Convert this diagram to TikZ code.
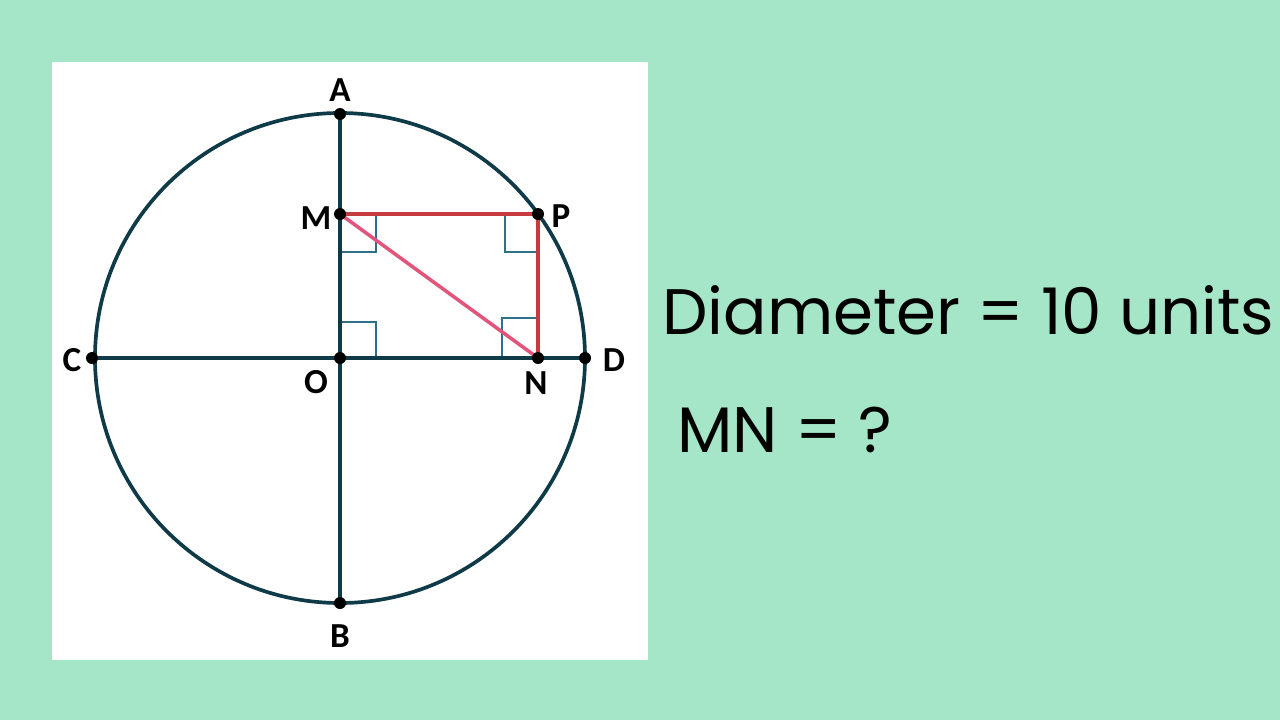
\documentclass[tikz,border=0pt]{standalone}
\usepackage{fontspec}
\setmainfont{Carlito}
\newfontfamily\gothic{Poppins}
\definecolor{mint}{HTML}{A6E6C8}
\definecolor{rim}{HTML}{0F3A48}
\definecolor{side}{HTML}{C63A40}
\definecolor{chord}{HTML}{E2557B}
\definecolor{sqcol}{HTML}{2F6F8C}
\tikzset{
  pt/.style={circle,fill=black,inner sep=0pt,minimum size=12*0.02cm},
  lbl/.style={font=\bfseries\fontsize{20}{24}\selectfont,inner sep=1pt},
  big/.style={font=\gothic\fontsize{36.6}{42}\selectfont,anchor=base west,inner sep=0pt},
  axis/.style={draw=rim,line width=2.1pt},
  rmark/.style={draw=sqcol,line width=0.6pt}
}
\begin{document}
\begin{tikzpicture}[x=0.02cm,y=-0.02cm]
                \fill[mint] (0,0) rectangle (1280,720);
                \fill[white] (52,62) rectangle (648,660);
                \useasboundingbox (0,0) rectangle (1280,720);

                % points
                \coordinate (O) at (340,358);
                \coordinate (A) at (340,114);
                \coordinate (B) at (340,603);
                \coordinate (C) at (92,358);
                \coordinate (D) at (585,358);
                \coordinate (M) at (340,214);
                \coordinate (P) at (538,214);
                \coordinate (N) at (538,358);

                % right angles
                \draw[rmark] (340,252) -- (376,252) -- (376,214);
                \draw[rmark] (505,214) -- (505,252) -- (538,252);
                \draw[rmark] (340,322) -- (376,322) -- (376,358);
                \draw[rmark] (502,358) -- (502,318) -- (538,318);

                \draw[axis] (O) circle (245);
                \draw[axis] (A) -- (B);
                \draw[axis] (C) -- (D);

                \draw[side,line width=2pt] (M) -- (P) -- (N);
                \draw[chord,line width=2pt] (M) -- (N); % MN

                \foreach \p in {O,A,B,C,D,M,P,N}
                  \node[pt] (dot\p) at (\p) {};

                % labels
                \node[lbl] (lA) at (340,90) {A};
                \node[lbl] (lB) at (340,636) {B};
                \node[lbl] (lC) at (72,360) {C};
                \node[lbl] (lD) at (614,360) {D};
                \node[lbl] (lO) at (316,382) {O};
                \node[lbl] (lN) at (536,383) {N};
                \node[lbl] (lM) at (316,218) {M};
                \node[lbl] (lP) at (561,216) {P};

                \node[big] (diam) at (662,334) {Diameter = 10 units};
                \node[big] (ask) at (677,452) {MN = ?};
            \end{tikzpicture}
\end{document}
